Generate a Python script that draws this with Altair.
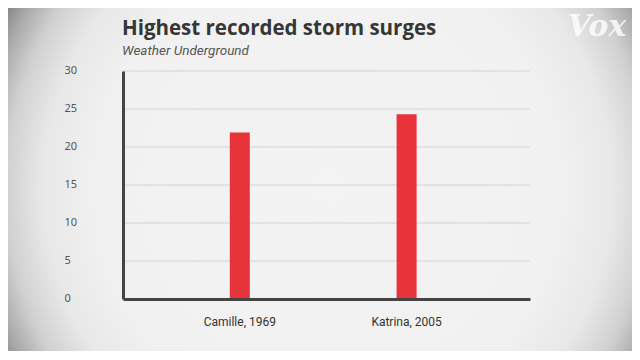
import altair as alt
import pandas as pd

storms = ["Camille, 1969", "Katrina, 2005"]
surge_ft = [21.9, 24.3]
grid_values = [5, 10, 15, 20, 25, 30]
tick_values = [0, 5, 10, 15, 20, 25, 30]
title_text = "Highest recorded storm surges"
subtitle_text = "Weather Underground"

bars_df = pd.DataFrame({"storm": storms, "surge": surge_ft})
grid_df = pd.DataFrame({"v": grid_values})
one = alt.Data(values=[{"a": 1}])

W, H = 407, 228
PAD_L, PAD_T = 115, 63
OX, OY = 8 + PAD_L, 8 + PAD_T  # page position of plot origin

yscale = alt.Scale(domain=[0, 30], nice=False)
yaxis = alt.Axis(values=tick_values, grid=False, ticks=False, domainColor="#444444",
                 domainWidth=3, labelFont="Noto Sans", labelFontSize=11,
                 labelColor="#555555", labelAlign="left", labelPadding=59,
                 labelBaseline="middle", labelOffset=-1, zindex=1, title=None)

vignette = alt.Chart(one).mark_rect(
    color=alt.RadialGradient(
        gradient="radial", x1=0.5, y1=0.5, r1=0, x2=0.5, y2=0.5, r2=0.72,
        stops=[
            alt.GradientStop(offset=0, color="#f3f3f3"),
            alt.GradientStop(offset=0.5, color="#f1f1f1"),
            alt.GradientStop(offset=0.62, color="#e8e8e8"),
            alt.GradientStop(offset=0.7, color="#d0d0d0"),
            alt.GradientStop(offset=0.76, color="#a8a8a8"),
            alt.GradientStop(offset=0.82, color="#747474"),
            alt.GradientStop(offset=1, color="#444444"),
        ],
    )
).encode(
    x=alt.value(-PAD_L), x2=alt.value(640 - PAD_L),
    y=alt.value(-PAD_T), y2=alt.value(360 - PAD_T),
)

grid = alt.Chart(grid_df).mark_rule(color="#d2d2d2", strokeWidth=1).encode(
    y=alt.Y("v:Q", scale=yscale, axis=yaxis, title=None)
)

bars = alt.Chart(bars_df).mark_bar(color="#e8333a").encode(
    x=alt.X("storm:N", sort=storms, title=None,
            scale=alt.Scale(paddingInner=0.88, paddingOuter=0.66, align=0.485),
            axis=alt.Axis(labelAngle=0, ticks=False, domainColor="#444444", domainWidth=3,
                          labelFont="Roboto", labelFontSize=12, labelColor="#333333",
                          labelPadding=17, labelBaseline="top", zindex=1)),
    y=alt.Y("surge:Q", scale=yscale, title=None, axis=yaxis),
)

title = alt.Chart(one).mark_text(
    text=title_text, font="Open Sans", fontWeight="bold", fontSize=20.5, color="#363636",
    align="left", baseline="alphabetic"
).encode(x=alt.value(122 - OX), y=alt.value(35 - OY))

subtitle = alt.Chart(one).mark_text(
    text=subtitle_text, font="Roboto", fontStyle="italic", fontSize=13.5, color="#555555",
    align="left", baseline="alphabetic"
).encode(x=alt.value(122 - OX), y=alt.value(55 - OY))

logo = alt.Chart(one).mark_text(
    text="Vox", font="DejaVu Serif", fontStyle="italic", fontWeight="bold",
    fontSize=30, color="#ffffff", opacity=0.8, align="center", baseline="middle"
).encode(x=alt.value(597 - OX), y=alt.value(27 - OY))

chart = alt.layer(vignette, grid, bars, title, subtitle, logo).properties(
    width=W, height=H,
    autosize=alt.AutoSizeParams(type="none"),
    padding={"left": PAD_L, "top": PAD_T, "right": 102, "bottom": 52},
    background="#f2f2f2",
).configure_view(stroke=None)

chart.save("out.html", embed_options={"renderer": "svg", "actions": False})
